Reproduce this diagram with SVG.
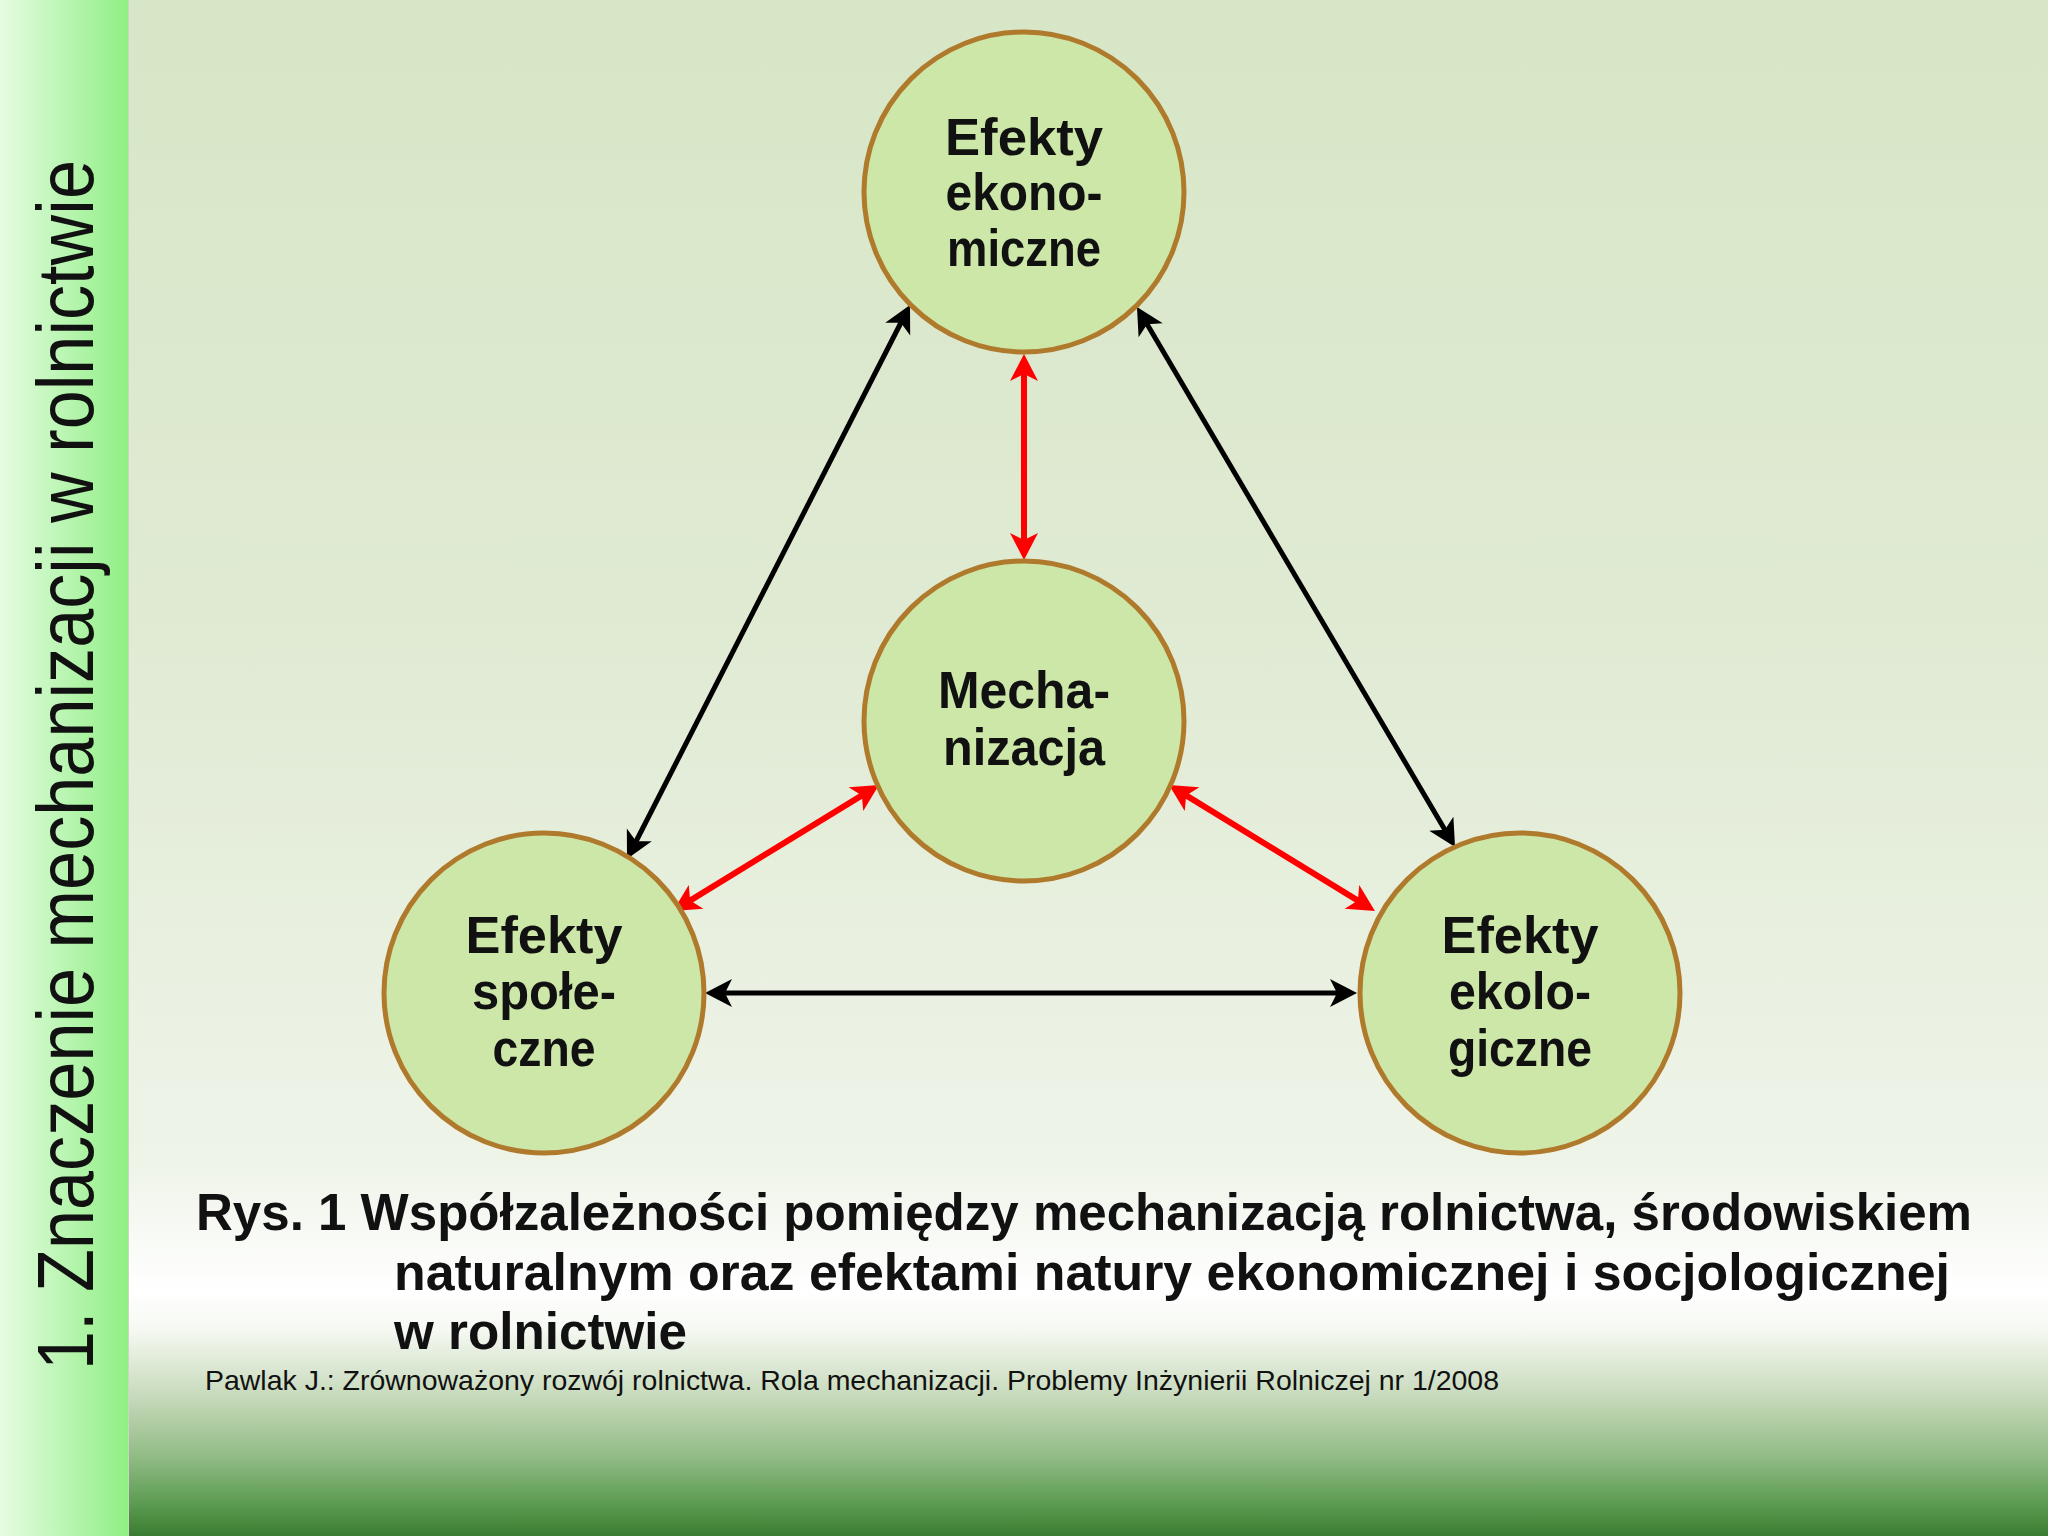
<svg xmlns="http://www.w3.org/2000/svg" width="2048" height="1536" viewBox="0 0 2048 1536">
<defs>
<linearGradient id="bg" x1="0" y1="0" x2="0" y2="1">
<stop offset="0" stop-color="#d7e6c6"/>
<stop offset="0.45" stop-color="#e1ebd5"/>
<stop offset="0.76" stop-color="#eff4e9"/>
<stop offset="0.84" stop-color="#ffffff"/>
<stop offset="0.865" stop-color="#f6f9f3"/>
<stop offset="0.91" stop-color="#c6d9ba"/>
<stop offset="0.95" stop-color="#8fba83"/>
<stop offset="0.98" stop-color="#5a9a50"/>
<stop offset="1" stop-color="#3a7c31"/>
</linearGradient>
<linearGradient id="bar" x1="0" y1="0" x2="1" y2="0">
<stop offset="0" stop-color="#e6fce2"/>
<stop offset="1" stop-color="#8fef84"/>
</linearGradient>
<marker id="ab" markerUnits="userSpaceOnUse" markerWidth="40" markerHeight="40" viewBox="-20 -20 40 40" refX="0" refY="0" orient="auto-start-reverse" overflow="visible">
<path d="M18,0 L-9,-14 L-2,0 L-9,14 Z" fill="#000"/>
</marker>
<marker id="ar" markerUnits="userSpaceOnUse" markerWidth="40" markerHeight="40" viewBox="-20 -20 40 40" refX="0" refY="0" orient="auto-start-reverse" overflow="visible">
<path d="M18,0 L-9,-14 L-2,0 L-9,14 Z" fill="#ff0000"/>
</marker>
</defs>
<style>
.node{fill:#cde7a9;stroke:#b07a2c;stroke-width:5}
.lbl{font-family:"Liberation Sans",Arial,sans-serif;font-weight:bold;font-size:52px;fill:#111;text-anchor:middle}
.cap{font-family:"Liberation Sans",Arial,sans-serif;font-weight:bold;font-size:52px;fill:#111}
.blk{stroke:#000;stroke-width:5;fill:none;marker-start:url(#ab);marker-end:url(#ab)}
.red{stroke:#ff0000;stroke-width:6;fill:none;marker-start:url(#ar);marker-end:url(#ar)}
</style>
<rect x="0" y="0" width="2048" height="1536" fill="url(#bg)"/>
<rect x="0" y="0" width="128" height="1536" fill="url(#bar)"/>
<line x1="128.5" y1="0" x2="128.5" y2="1536" stroke="#c8d8c0" stroke-width="1"/>
<text transform="translate(93,1370) rotate(-90) scale(0.878,1)" font-family="'Liberation Sans',Arial,sans-serif" font-size="80" fill="#111">1. Znaczenie mechanizacji w rolnictwie</text>
<g id="connectors">
<line class="red" x1="1024" y1="372" x2="1024" y2="542"/>
<line class="red" x1="863.6" y1="794.4" x2="688.4" y2="901.6"/>
<line class="red" x1="1184.4" y1="794.4" x2="1359.6" y2="901.6"/>
<line class="blk" x1="901.8" y1="321" x2="635.2" y2="843"/>
<line class="blk" x1="1146.1" y1="322.5" x2="1445.9" y2="831.5"/>
<line class="blk" x1="723" y1="993" x2="1339" y2="993"/>
</g>
<g id="node-ekonomiczne">
<circle class="node" cx="1024" cy="192" r="160"/>
<text class="lbl" x="1024" y="155" textLength="158" lengthAdjust="spacingAndGlyphs">Efekty</text>
<text class="lbl" x="1024" y="210" textLength="157" lengthAdjust="spacingAndGlyphs">ekono-</text>
<text class="lbl" x="1024" y="266" textLength="154" lengthAdjust="spacingAndGlyphs">miczne</text>
</g>
<g id="node-mechanizacja">
<circle class="node" cx="1024" cy="721" r="160"/>
<text class="lbl" x="1024" y="708" textLength="172" lengthAdjust="spacingAndGlyphs">Mecha-</text>
<text class="lbl" x="1024" y="765" textLength="162" lengthAdjust="spacingAndGlyphs">nizacja</text>
</g>
<g id="node-spoleczne">
<circle class="node" cx="544" cy="993" r="160"/>
<text class="lbl" x="544" y="953" textLength="157" lengthAdjust="spacingAndGlyphs">Efekty</text>
<text class="lbl" x="544" y="1009" textLength="144" lengthAdjust="spacingAndGlyphs">społe-</text>
<text class="lbl" x="544" y="1066" textLength="103" lengthAdjust="spacingAndGlyphs">czne</text>
</g>
<g id="node-ekologiczne">
<circle class="node" cx="1520" cy="993" r="160"/>
<text class="lbl" x="1520" y="953" textLength="157" lengthAdjust="spacingAndGlyphs">Efekty</text>
<text class="lbl" x="1520" y="1009" textLength="142" lengthAdjust="spacingAndGlyphs">ekolo-</text>
<text class="lbl" x="1520" y="1066" textLength="144" lengthAdjust="spacingAndGlyphs">giczne</text>
</g>
<text class="cap" x="196" y="1230" textLength="1776" lengthAdjust="spacingAndGlyphs">Rys. 1 Współzależności pomiędzy mechanizacją rolnictwa, środowiskiem</text>
<text class="cap" x="394" y="1290" textLength="1556" lengthAdjust="spacingAndGlyphs">naturalnym oraz efektami natury ekonomicznej i socjologicznej</text>
<text class="cap" x="394" y="1349" textLength="293" lengthAdjust="spacingAndGlyphs">w rolnictwie</text>
<text x="205" y="1390" font-family="'Liberation Sans',Arial,sans-serif" font-size="28" fill="#111" textLength="1294" lengthAdjust="spacingAndGlyphs">Pawlak J.:  Zrównoważony rozwój rolnictwa. Rola mechanizacji. Problemy Inżynierii Rolniczej nr 1/2008</text>
</svg>
